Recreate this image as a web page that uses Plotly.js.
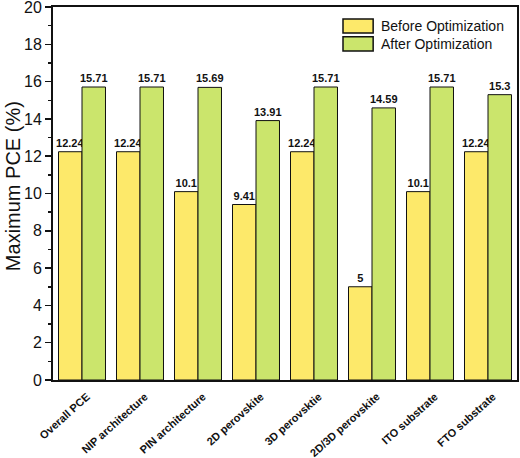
<!DOCTYPE html>
<html><head><meta charset="utf-8">
<script src="https://cdn.plot.ly/plotly-3.0.1.min.js"></script>
<style>html,body{margin:0;padding:0;background:#fff;}#chart{width:520px;height:458px;}</style>
</head><body><div id="chart"></div>
<script>
var categories = ["Overall PCE","NIP architecture","PIN architecture","2D perovskite","3D perovsktie","2D/3D perovskite","ITO substrate","FTO substrate"];
var beforeValues = [12.24,12.24,10.1,9.41,12.24,5,10.1,12.24];
var afterValues = [15.71,15.71,15.69,13.91,15.71,14.59,15.71,15.3];
var seriesNames = ["Before Optimization","After Optimization"];
var seriesColors = ["#FDE96A","#CBE56C"];
var yTickVals = [0,2,4,6,8,10,12,14,16,18,20];
var yTitle = "Maximum PCE (%)";

var F = "Liberation Sans, Arial, sans-serif";
function mk(vals, name, color){
  return {
    type:"bar", x:categories, y:vals, name:name,
    marker:{color:color, line:{color:"#111", width:1}},
    text: vals.map(function(v){return String(v);}),
    textposition:"outside", constraintext:"none", cliponaxis:false,
    textfont:{family:F, size:11, color:"#111", weight:"bold"},
    hoverinfo:"none"
  };
}
var data = [mk(beforeValues, seriesNames[0], seriesColors[0]), mk(afterValues, seriesNames[1], seriesColors[1])];

// custom legend (swatches + labels), positioned in paper coordinates
var legX0 = 0.625, legX1 = 0.690, legTextX = 0.703;
var legRows = [[0.968, 0.930], [0.920, 0.882]];
var shapes = [], annotations = [];
seriesNames.forEach(function(n, i){
  shapes.push({type:"rect", xref:"paper", yref:"paper", x0:legX0, x1:legX1, y0:legRows[i][1], y1:legRows[i][0],
    fillcolor:seriesColors[i], line:{color:"#111", width:1.5}});
  annotations.push({xref:"paper", yref:"paper", x:legTextX, y:(legRows[i][0]+legRows[i][1])/2,
    xanchor:"left", yanchor:"middle", text:n, showarrow:false, font:{family:F, size:14, color:"#111"}});
});
// y-axis title as rotated annotation
annotations.push({xref:"paper", yref:"paper", x:-0.086, y:0.52, xanchor:"center", yanchor:"middle",
  textangle:-90, text:yTitle, showarrow:false, font:{family:F, size:20, color:"#111"}});

var layout = {
  width:520, height:458,
  margin:{l:53, r:3, t:7, b:78},
  paper_bgcolor:"#fff", plot_bgcolor:"#fff",
  barmode:"group", bargap:0.19, bargroupgap:0,
  showlegend:false,
  shapes:shapes, annotations:annotations,
  xaxis:{range:[-0.5,7.5], showline:true, mirror:true, linecolor:"#111", linewidth:2,
    ticks:"", tickangle:-42, tickfont:{family:F, size:11, color:"#111", weight:"bold"},
    ticklabelstandoff:4, ticklabelshift:5,
    showgrid:false, zeroline:false, fixedrange:true},
  yaxis:{range:[0,20], tickvals:yTickVals, showline:true, mirror:true, linecolor:"#111", linewidth:2,
    ticks:"outside", ticklen:6, tickwidth:1.5, tickcolor:"#111", ticklabeloverflow:"allow",
    minor:{dtick:1, ticks:"outside", ticklen:3, tickwidth:1.5, tickcolor:"#111"},
    tickfont:{family:F, size:16, color:"#111"}, showgrid:false, zeroline:false, fixedrange:true}
};
Plotly.newPlot("chart", data, layout, {displayModeBar:false, staticPlot:true});
</script></body></html>
